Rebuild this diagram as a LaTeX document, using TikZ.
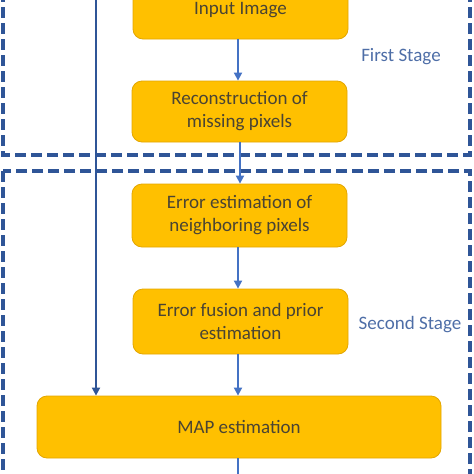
\documentclass[tikz,border=0pt]{standalone}
\usepackage{fontspec}
\setmainfont{Carlito}
\usetikzlibrary{arrows.meta,positioning}
\definecolor{boxfill}{HTML}{FFC000}
\definecolor{boxline}{HTML}{E3A600}
\definecolor{boxtext}{HTML}{4A4433}
\definecolor{stageblue}{HTML}{2F5597}
\definecolor{arrowblue}{HTML}{4472C4}
\begin{document}
\begin{tikzpicture}[
            x=1pt, y=1pt,
            every node/.style={font=\fontsize{19}{23}\selectfont},
            stepbox/.style={draw=boxline, line width=0.8pt, rectangle, rounded corners=10pt, fill=boxfill,
                text=boxtext, align=center, minimum width=215pt, minimum height=62pt, inner sep=0pt},
            stage/.style={draw=stageblue, line width=3.2pt, dash pattern=on 11pt off 5pt},
            flow/.style={draw=arrowblue, line width=1.8pt, -{Triangle[length=8pt,width=8pt]}},
            back/.style={draw=stageblue, line width=1.8pt, -{Triangle[length=8pt,width=8pt]}},
            stagelabel/.style={text=stageblue!85!white, inner sep=0pt}
        ]
            \useasboundingbox (0,0) rectangle (474,-474);
            % stage frames
            \draw[stage] (3,25) rectangle (470,-155);
            \draw[stage] (3,-171) rectangle (470,-500);
            \node[stagelabel] (first) at (401,-57) {First Stage};
            \node[stagelabel] (second) at (410,-325) {Second Stage};

            \node[stepbox, minimum height=58pt] (input) at (240.5,-10) {Input Image};
            \node[stepbox, minimum height=61pt] (recon) at (239.5,-111.5) {Reconstruction of\\missing pixels};
            \node[stepbox, minimum height=63pt] (errest) at (239.5,-215.5) {Error estimation of\\neighboring pixels};
            \node[stepbox, minimum height=65pt] (fusion) at (240.5,-321.5) {Error fusion and prior\\estimation};
            \node[stepbox, minimum width=404pt] (map) at (239,-427) {MAP estimation};
            \coordinate (out) at (238,-490);

            \draw[flow] (input.south -| 238,0) -- (recon.north -| 238,0);
            \draw[flow] (recon.south -| 240,0) -- (errest.north -| 240,0);
            \draw[flow] (errest.south -| 238,0) -- (fusion.north -| 238,0);
            \draw[flow] (fusion.south -| 238,0) -- (map.north -| 238,0);
            \draw[draw=arrowblue, line width=1.8pt] (map.south -| 238,0) -- (out);
            \draw[back] (input.west |- 0,8) -| (map.north -| 96,0);
        \end{tikzpicture}
\end{document}
